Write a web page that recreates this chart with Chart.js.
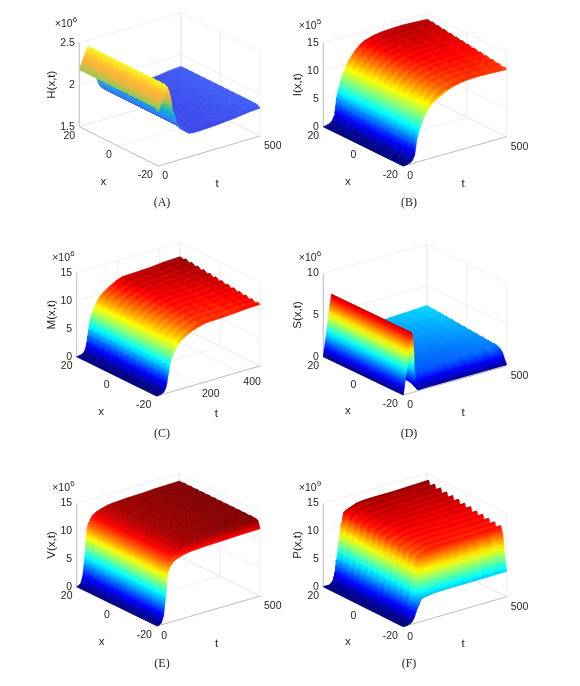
<!DOCTYPE html>
<html>
<head>
<meta charset="utf-8">
<title>Surfaces</title>
<script src="https://cdn.jsdelivr.net/npm/chart.js@4/dist/chart.umd.min.js"></script>
<style>
  body { margin: 0; background: #fff; }
  canvas { position: absolute; }
</style>
</head>
<body>
<script>
// Grid shared by the surfaces (C has its own t steps)
const xGrid = [-20,-19,-18,-17,-16,-15,-14,-13,-12,-11,-10,-9,-8,-7,-6,-5,-4,-3,-2,-1,0,1,2,3,4,5,6,7,8,9,10,11,12,13,14,15,16,17,18,19,20];
const tGrid = [0,10,20,30,35,40,44,48,52,56,60,64,68,72,76,80,85,90,95,100,110,120,135,150,175,200,240,280,330,380,440,500];
const tGridC = [0,11,22,33,39,44,49,53,58,62,67,71,76,80,84,89,94,100,106,111,122,133,150,167,194,222,267,311,367,422,461,500];

// Height along t
const heightH = [2.18,2.24,2.30,2.36,2.39,2.41,2.42,2.415,2.39,2.35,2.31,2.25,2.18,2.13,2.10,2.08,2.03,1.98,1.95,1.92,1.89,1.87,1.84,1.81,1.80,1.80,1.805,1.81,1.82,1.83,1.85,1.86];
const heightI = [0,.03,.1,.2,.3,.4,.6,.85,1.2,1.7,2.7,3.8,4.4,4.9,5.4,5.8,6.3,6.8,7.2,7.6,8.3,8.95,9.6,10.2,11,11.45,11.85,12.05,12.15,12.2,12.1,12];
const heightM = [0,.03,.1,.3,.6,1.0,1.7,2.7,3.6,4.6,5.4,5.9,6.3,6.6,6.9,7.2,7.5,7.9,8.1,8.35,8.7,9.0,9.4,9.7,10.2,10.5,10.55,10.6,10.7,10.9,10.95,11];
const heightS = [0,0,0,0,0,0,0,0,0,0,.3,.7,1.2,1.6,1.9,2.0,2.1,2.2,2.2,2.23,2.25,2.28,2.3,2.3,2.32,2.34,2.36,2.4,2.45,2.5,2.58,2.66];
const ridgeS = [0,1.8,3.6,5.6,6.4,7.2,6.9,6,4,2.4,.9,.3,.1,0,0,0,0,0,0,0,0,0,0,0,0,0,0,0,0,0,0,0];
const heightV = [0,.1,.4,1.7,3.4,5.2,7.2,9.4,10.2,10.7,11,11.3,11.5,11.75,11.95,12.05,12.2,12.3,12.4,12.5,12.6,12.75,12.9,13.05,13.15,13.2,13.3,13.35,13.4,13.5,13.55,13.6];
const heightP = [0,.05,.15,.4,.6,.9,1.4,2,2.8,3.75,4.8,5.8,6.8,7.6,8.4,9.2,10.1,10.8,10.95,11.05,11.2,11.3,11.5,11.7,11.8,11.85,11.85,11.85,11.85,11.9,11.95,12];

// Factor across x, from x=-20 to x=20
const acrossH = [.985,.996,1,.999,1.001,1,.999,1.001,1,.999,1.001,1,.999,1.001,1,.999,1.001,1,.999,1.001,1,.999,1.001,1,.999,1.001,1,.999,1.001,1,.999,1.001,1,.999,1.001,1,.999,1.001,1,.999,1];
const acrossI = [1,1.02,.99,1.012,1.032,1.002,1.024,1.044,1.014,1.036,1.056,1.026,1.048,1.068,1.038,1.06,1.08,1.05,1.072,1.092,1.062,1.084,1.104,1.074,1.096,1.116,1.086,1.108,1.128,1.098,1.12,1.14,1.11,1.132,1.152,1.122,1.144,1.164,1.134,1.156,1.16];
const acrossM = [1,1.018,.99,1.011,1.029,1.001,1.022,1.04,1.012,1.033,1.051,1.023,1.044,1.062,1.034,1.055,1.073,1.045,1.066,1.084,1.056,1.077,1.095,1.067,1.088,1.106,1.078,1.099,1.117,1.089,1.11,1.128,1.1,1.121,1.139,1.111,1.132,1.148,1.122,1.137,1.136];
const acrossS = [.06,.25,.5,.62,.68,.72,.74,.725,.735,.765,.75,.76,.79,.775,.785,.815,.8,.81,.84,.825,.835,.865,.85,.86,.89,.875,.885,.915,.9,.91,.94,.925,.935,.965,.95,.96,.985,.975,.98,1,1];
const acrossV = [.89,.985,1,.996,1.004,1,.996,1.004,1,.996,1.004,1,.996,1.004,1,.996,1.004,1,.996,1.004,1,.996,1.004,1,.996,1.004,1,.996,1.004,1,.996,1.004,1,.996,1.004,1,.996,1.004,1,.996,1];
const acrossP = [.38,.62,.92,1.02,.98,.945,1.03,.99,.95,1.04,1,.965,1.055,1.02,.98,1.06,1.025,.99,1.08,1.04,1,1.085,1.05,1.015,1.1,1.06,1.025,1.11,1.075,1.04,1.12,1.08,1.05,1.135,1.095,1.06,1.145,1.105,1.075,1.16,1.12];

// Columns whose rise arrives a few t steps late, which gives the ridges their zigzag
const delayIM = [0,0,-2,-1,0,-2,-1,0,-2,-1,0,-2,-1,0,-2,-1,0,-2,-1,0,-2,-1,0,-2,-1,0,-2,-1,0,-2,-1,0,-2,-1,0,-2,-1,0,-2,-1,0];
const delayP = [0,0,0,0,-7,-4,0,-7,-4,0,-7,-4,0,-7,-4,0,-7,-4,0,-7,-4,0,-7,-4,0,-7,-4,0,-7,-4,0,-7,-4,0,-7,-4,0,-7,-4,0,-7];

// Colormaps
const jetStops = [[0,0,0,128],[.125,0,0,255],[.375,0,255,255],[.625,255,255,0],[.875,255,0,0],[1,128,0,0]];
const parulaStops = [[0,60,70,235],[.1,62,90,245],[.25,40,135,240],[.4,20,175,210],[.5,55,190,160],[.62,150,200,80],[.75,240,180,60],[.85,253,185,50],[1,250,245,30]];

const xTicks = [-20, 0, 20];

const panels = [
  { name: 'H(x,t)', caption: '(A)', power: '6', t: tGrid, height: heightH, across: acrossH, stops: parulaStops, range: [1.79, 2.42],
    zTicks: [1.5, 2, 2.5], zLabels: ['1.5', '2', '2.5'], tTicks: [0, 500], box: [0, 0, 290, 215],
    left: [79.3, 126.7], front: [158.3, 166], right: [260, 136], zPixels: 84, nameX: 52, powerY: 24.3, captionAt: [162, 203] },
  { name: 'I(x,t)', caption: '(B)', power: '5', t: tGrid, height: heightI, across: acrossI, delay: delayIM, stops: jetStops, range: [0, 14.8],
    zTicks: [0, 5, 10, 15], zLabels: ['0', '5', '10', '15'], tTicks: [0, 500], box: [290, 0, 290, 215],
    left: [323.3, 126.7], front: [403.3, 166], right: [506.7, 136.7], zPixels: 84, nameX: 298, powerY: 26, captionAt: [409, 203] },
  { name: 'M(x,t)', caption: '(C)', power: '6', t: tGridC, height: heightM, across: acrossM, delay: delayIM, stops: jetStops, range: [0, 12.8],
    zTicks: [0, 5, 10, 15], zLabels: ['0', '5', '10', '15'], tTicks: [200, 400], box: [0, 225, 290, 225],
    left: [76.7, 356.7], front: [156.7, 396], right: [260, 366], zPixels: 84, nameX: 52, powerY: 258, captionAt: [162, 434] },
  { name: 'S(x,t)', caption: '(D)', power: '6', t: tGrid, height: heightS, ridge: ridgeS, across: acrossS, stops: jetStops, range: [0, 7.8],
    zTicks: [0, 5, 10], zLabels: ['0', '5', '10'], tTicks: [0, 500], box: [290, 225, 290, 225],
    left: [323.3, 356.7], front: [403.3, 395], right: [506.7, 366], zPixels: 83.4, nameX: 298, powerY: 258, captionAt: [409, 434] },
  { name: 'V(x,t)', caption: '(E)', power: '6', t: tGrid, height: heightV, across: acrossV, stops: jetStops, range: [0, 13.6],
    zTicks: [0, 5, 10, 15], zLabels: ['0', '5', '10', '15'], tTicks: [0, 500], box: [0, 455, 290, 231],
    left: [76.7, 586.7], front: [157.3, 626], right: [260, 596], zPixels: 83.4, nameX: 52, powerY: 488, captionAt: [162, 664] },
  { name: 'P(x,t)', caption: '(F)', power: '9', t: tGrid, height: heightP, across: acrossP, delay: delayP, stops: jetStops, range: [0, 14],
    zTicks: [0, 5, 10, 15], zLabels: ['0', '5', '10', '15'], tTicks: [0, 500], box: [290, 455, 290, 231],
    left: [323.3, 586.7], front: [403.3, 626.7], right: [506.7, 596.7], zPixels: 83.4, nameX: 298, powerY: 488, captionAt: [409, 664] }
];

function colorFor(stops, v) {
  v = Math.max(0, Math.min(1, v));
  for (let i = 1; i < stops.length; i++) {
    if (v <= stops[i][0]) {
      const a = stops[i - 1], b = stops[i];
      const f = (v - a[0]) / (b[0] - a[0]);
      const c = [1, 2, 3].map(k => Math.round(a[k] + (b[k] - a[k]) * f));
      return `rgb(${c[0]},${c[1]},${c[2]})`;
    }
  }
  return 'rgb(128,0,0)';
}

// Turns x, t, z into the position on the panel's plane
function project(p, x, t, z) {
  const tMax = p.t[p.t.length - 1];
  const zMin = p.zTicks[0], zMax = p.zTicks[p.zTicks.length - 1];
  const u = (20 - x) / 40, w = t / tMax, h = (z - zMin) / (zMax - zMin);
  return {
    x: p.left[0] + u * (p.front[0] - p.left[0]) + w * (p.right[0] - p.front[0]) - p.box[0],
    y: p.left[1] + u * (p.front[1] - p.left[1]) + w * (p.right[1] - p.front[1]) - h * p.zPixels - p.box[1]
  };
}

function surfaceValue(p, i, j) {
  const row = p.delay ? Math.max(0, j + p.delay[i]) : j;
  return p.height[row] * p.across[i] + (p.ridge ? p.ridge[j] : 0);
}

function lineDataset(points, color, width) {
  return { data: points, showLine: true, fill: false, borderColor: color, borderWidth: width, pointRadius: 0 };
}

// Flat colour for a level cell, otherwise a gradient along its steepest direction
function cellPaint(p, ctx, i, j, pts) {
  const z = [surfaceValue(p, i, j), surfaceValue(p, i + 1, j), surfaceValue(p, i + 1, j + 1), surfaceValue(p, i, j + 1)];
  const norm = v => (v - p.range[0]) / (p.range[1] - p.range[0]);
  const alongT = (z[2] + z[3] - z[0] - z[1]) / 2;
  const alongX = (z[1] + z[2] - z[0] - z[3]) / 2;
  const size = p.range[1] - p.range[0];
  if (Math.abs(alongT) < 0.012 * size && Math.abs(alongX) < 0.012 * size) {
    return colorFor(p.stops, norm((z[0] + z[1] + z[2] + z[3]) / 4));
  }
  let from, to, zFrom, zTo;
  if (Math.abs(alongT) >= Math.abs(alongX)) {
    from = [(pts[0].x + pts[1].x) / 2, (pts[0].y + pts[1].y) / 2];
    to = [(pts[2].x + pts[3].x) / 2, (pts[2].y + pts[3].y) / 2];
    zFrom = (z[0] + z[1]) / 2;
    zTo = (z[2] + z[3]) / 2;
  } else {
    from = [(pts[0].x + pts[3].x) / 2, (pts[0].y + pts[3].y) / 2];
    to = [(pts[1].x + pts[2].x) / 2, (pts[1].y + pts[2].y) / 2];
    zFrom = (z[0] + z[3]) / 2;
    zTo = (z[1] + z[2]) / 2;
  }
  const g = ctx.createLinearGradient(from[0], from[1], to[0], to[1]);
  [0, .25, .5, .75, 1].forEach(f => g.addColorStop(f, colorFor(p.stops, norm(zFrom + (zTo - zFrom) * f))));
  return g;
}

function buildDatasets(p, ctx) {
  const sets = [];
  const tMax = p.t[p.t.length - 1];
  const zMin = p.zTicks[0], zMax = p.zTicks[p.zTicks.length - 1];

  // Surface cells, nearest first because Chart.js paints the first dataset last
  for (let i = 0; i < xGrid.length - 1; i++) {
    for (let j = 0; j < p.t.length - 1; j++) {
      const corners = [[i, j], [i + 1, j], [i + 1, j + 1], [i, j + 1], [i, j]];
      const data = corners.map(c => project(p, xGrid[c[0]], p.t[c[1]], surfaceValue(p, c[0], c[1])));
      const paint = cellPaint(p, ctx, i, j, data);
      sets.push({ data: data, showLine: true, fill: 'shape', backgroundColor: paint, borderColor: paint, borderWidth: 0.7, pointRadius: 0 });
    }
  }

  // Axis lines
  const axisColor = '#b4b4b4', gridColor = '#ebebeb';
  sets.push(lineDataset([project(p, 20, 0, zMin), project(p, 20, 0, zMax)], axisColor, 0.8));
  sets.push(lineDataset([project(p, 20, 0, zMin), project(p, -20, 0, zMin)], axisColor, 0.8));
  sets.push(lineDataset([project(p, -20, 0, zMin), project(p, -20, tMax, zMin)], axisColor, 0.8));

  // Back walls and floor grid
  p.zTicks.forEach(z => {
    sets.push(lineDataset([project(p, 20, 0, z), project(p, 20, tMax, z), project(p, -20, tMax, z)], gridColor, 0.8));
  });
  xTicks.forEach(x => {
    sets.push(lineDataset([project(p, x, 0, zMin), project(p, x, tMax, zMin), project(p, x, tMax, zMax)], gridColor, 0.8));
  });
  p.tTicks.concat(tMax).forEach(t => {
    sets.push(lineDataset([project(p, -20, t, zMin), project(p, 20, t, zMin), project(p, 20, t, zMax)], gridColor, 0.8));
  });
  return sets;
}

// Tick labels, axis names and the caption, placed through the chart's scales
const panelText = {
  id: 'panelText',
  afterDraw(chart, args, opts) {
    const p = opts.panel;
    const ctx = chart.ctx;
    const sx = chart.scales.x, sy = chart.scales.y;
    const zMin = p.zTicks[0], zMax = p.zTicks[p.zTicks.length - 1];
    const tMax = p.t[p.t.length - 1];
    const at = (pt, dx, dy) => [sx.getPixelForValue(pt.x) + dx, sy.getPixelForValue(pt.y) + dy];
    const put = (text, pos, align) => {
      ctx.textAlign = align || 'center';
      ctx.fillText(text, pos[0], pos[1]);
    };
    ctx.save();
    ctx.fillStyle = '#262626';
    ctx.textBaseline = 'middle';
    ctx.font = '10.5px "Liberation Sans"';
    p.zTicks.forEach((z, k) => put(p.zLabels[k], at(project(p, 20, 0, z), -4.5, 0), 'right'));
    xTicks.forEach(x => put(String(x), at(project(p, x, 0, zMin), x === -20 ? -13 : -10, x === 20 ? 9.5 : 9)));
    p.tTicks.forEach(t => put(String(t), at(project(p, -20, t, zMin), 4, 10), 'left'));

    ctx.font = '11.5px "Liberation Sans"';
    put('x', at(project(p, 0, 0, zMin), -15.5, 35));
    put('t', at(project(p, -20, tMax / 2, zMin), 8, 32.5));

    const midY = sy.getPixelForValue(project(p, 20, 0, (zMin + zMax) / 2).y);
    ctx.save();
    ctx.translate(p.nameX - p.box[0], midY);
    ctx.rotate(-Math.PI / 2);
    put(p.name, [0, 0]);
    ctx.restore();

    // Exponent above the z axis
    const topX = sx.getPixelForValue(project(p, 20, 0, zMax).x) - 24.5;
    const topY = p.powerY - p.box[1];
    ctx.font = '10.5px "Liberation Sans"';
    put('×10', [topX, topY], 'left');
    ctx.font = '8px "Liberation Sans"';
    put(p.power, [topX + 18, topY - 4.5], 'left');

    ctx.font = '12px "Liberation Serif"';
    put(p.caption, [p.captionAt[0] - p.box[0], p.captionAt[1] - p.box[1]]);
    ctx.restore();
  }
};

panels.forEach(p => {
  const canvas = document.createElement('canvas');
  canvas.style.left = p.box[0] + 'px';
  canvas.style.top = p.box[1] + 'px';
  canvas.width = p.box[2];
  canvas.height = p.box[3];
  document.body.appendChild(canvas);

  new Chart(canvas, {
    type: 'scatter',
    data: { datasets: buildDatasets(p, canvas.getContext('2d')) },
    plugins: [panelText],
    options: {
      responsive: false,
      animation: false,
      events: [],
      clip: false,
      layout: { padding: 0 },
      scales: {
        x: { type: 'linear', display: false, min: 0, max: p.box[2] },
        y: { type: 'linear', display: false, min: 0, max: p.box[3], reverse: true }
      },
      plugins: {
        legend: { display: false },
        tooltip: { enabled: false },
        panelText: { panel: p }
      }
    }
  });
});
</script>
</body>
</html>
